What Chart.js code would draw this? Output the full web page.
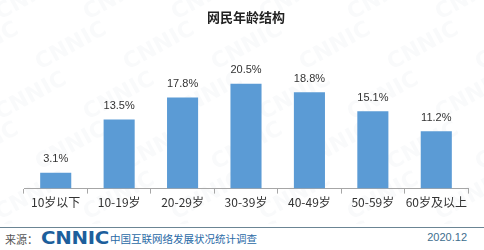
<!DOCTYPE html>
<html>
<head>
<meta charset="utf-8">
<script src="https://cdn.jsdelivr.net/npm/chart.js@4"></script>
<style>
  html, body { margin: 0; padding: 0; background: #fff; }
  body { width: 484px; height: 250px; overflow: hidden; position: relative; font-family: "Noto Sans CJK SC", "Liberation Sans", sans-serif; }
  #wrap { position: absolute; left: 0; top: 0; width: 484px; height: 224px; }
  #footer { position: absolute; left: 0; top: 227px; width: 484px; height: 23px; border-top: 1px solid #6b8594; }
  #footer .src { position: absolute; left: 5px; top: 3px; font-size: 11px; color: #555; }
  #footer .logo { position: absolute; left: 41px; top: -1px; font-family: "DejaVu Sans", sans-serif; font-weight: bold; font-size: 18px; color: #1d5f9c; letter-spacing: -0.3px; transform: scaleX(1.1); transform-origin: left center; }
  #footer .name { position: absolute; left: 110px; top: 3px; font-size: 10.5px; color: #2a6aa6; }
  #footer .date { position: absolute; right: 17px; top: 3px; font-family: "Liberation Sans", sans-serif; font-size: 11px; color: #3e6e8e; }
</style>
</head>
<body>
<div id="wrap"><canvas id="chart"></canvas></div>
<div id="footer">
  <span class="src">来源：</span>
  <span class="logo">CNNIC</span>
  <span class="name">中国互联网络发展状况统计调查</span>
  <span class="date">2020.12</span>
</div>
<script>
const categories = ["10岁以下", "10-19岁", "20-29岁", "30-39岁", "40-49岁", "50-59岁", "60岁及以上"];
const shares = [3.1, 13.5, 17.8, 20.5, 18.8, 15.1, 11.2];

// faint CNNIC watermark behind the chart
const watermark = {
  id: "watermark",
  beforeDraw(chart) {
    const ctx = chart.ctx;
    ctx.save();
    ctx.fillStyle = "rgba(120,140,160,0.045)";
    ctx.font = "bold 22px 'DejaVu Sans'";
    for (let row = -1; row < 6; row++) {
      for (let col = -1; col < 6; col++) {
        ctx.save();
        ctx.translate(col * 88 + (row % 2) * 40, row * 50 + 20);
        ctx.rotate(-0.5);
        ctx.fillText("CNNIC", 0, 0);
        ctx.restore();
      }
    }
    ctx.restore();
  }
};

const valueLabels = {
  id: "valueLabels",
  afterDatasetsDraw(chart) {
    const ctx = chart.ctx;
    const meta = chart.getDatasetMeta(0);
    ctx.save();
    ctx.fillStyle = "#333";
    ctx.font = "11px 'Liberation Sans'";
    ctx.textAlign = "center";
    ctx.textBaseline = "bottom";
    meta.data.forEach((bar, i) => {
      ctx.fillText(shares[i].toFixed(1) + "%", bar.x, bar.y - 8);
    });
    ctx.restore();
  }
};

new Chart(document.getElementById("chart"), {
  type: "bar",
  data: {
    labels: categories,
    datasets: [{
      data: shares,
      backgroundColor: "#5b9bd5",
      categoryPercentage: 1,
      barPercentage: 0.49
    }]
  },
  options: {
    responsive: true,
    maintainAspectRatio: false,
    animation: false,
    layout: { padding: { left: 24, right: 16, top: 0, bottom: 12 } },
    plugins: {
      legend: { display: false },
      tooltip: { enabled: false },
      title: {
        display: true,
        text: "网民年龄结构",
        color: "#222",
        font: { size: 13, weight: "bold", family: "'Noto Sans CJK SC'" },
        padding: { top: 9, bottom: 36 }
      }
    },
    scales: {
      x: {
        grid: { display: true, drawOnChartArea: false, color: "#a6a6a6", tickLength: 5, offset: true },
        border: { color: "#a6a6a6" },
        ticks: { color: "#333", font: { size: 12, family: "'Noto Sans CJK SC'" }, padding: 2, maxRotation: 0, autoSkip: false }
      },
      y: {
        display: false,
        min: 0,
        max: 25
      }
    }
  },
  plugins: [watermark, valueLabels]
});
</script>
</body>
</html>
